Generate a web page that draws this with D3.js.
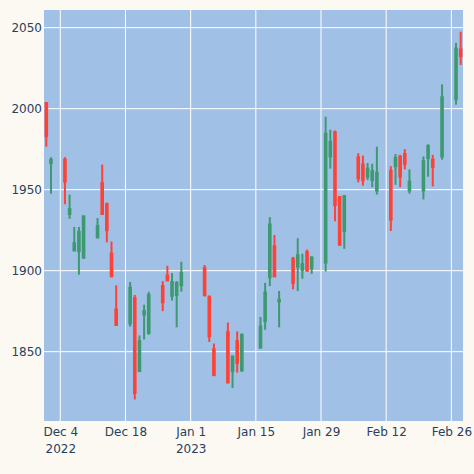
<!DOCTYPE html>
<html>
<head>
<meta charset="utf-8">
<script src="https://cdn.jsdelivr.net/npm/d3@7"></script>
<style>
  html, body { margin: 0; padding: 0; background: #fbf9f1; }
</style>
</head>
<body>
<script>
// trading days
const dates = ["2022-12-01","2022-12-02","2022-12-05","2022-12-06","2022-12-07","2022-12-08","2022-12-09",
  "2022-12-12","2022-12-13","2022-12-14","2022-12-15","2022-12-16","2022-12-19","2022-12-20","2022-12-21",
  "2022-12-22","2022-12-23","2022-12-26","2022-12-27","2022-12-28","2022-12-29","2022-12-30","2023-01-04",
  "2023-01-05","2023-01-06","2023-01-09","2023-01-10","2023-01-11","2023-01-12","2023-01-16","2023-01-17",
  "2023-01-18","2023-01-19","2023-01-20","2023-01-23","2023-01-24","2023-01-25","2023-01-26","2023-01-27",
  "2023-01-30","2023-01-31","2023-02-01","2023-02-02","2023-02-03","2023-02-06","2023-02-07","2023-02-08",
  "2023-02-09","2023-02-10","2023-02-13","2023-02-14","2023-02-15","2023-02-16","2023-02-17","2023-02-20",
  "2023-02-21","2023-02-22","2023-02-24","2023-02-27","2023-02-28"];

const open  = [2003.5,1966.5,1968.5,1935,1912.5,1912,1908,1920.5,1954,1941,1910.5,1876,1867.5,1883,1838,
  1873,1861.5,1890.5,1897,1884.5,1885,1891,1901.5,1884,1851.5,1862,1838,1856.5,1838.5,1852.5,1869,
  1896,1915,1881,1907.5,1902.5,1900.5,1911.5,1901.5,1905,1970.5,1985.5,1945.5,1924.5,1970,1965.5,1958,
  1956,1949.5,1961.5,1964.5,1970.5,1972,1949.5,1949.5,1969.5,1968.5,1970.5,2006,2036.5];
const high  = [2004,1970,1970,1947,1927,1927,1934,1932.5,1965.5,1942,1918,1891,1893,1885,1860,
  1879,1887,1893.5,1903,1898.5,1893.5,1905.5,1903.5,1884.5,1855,1868,1847.5,1862.5,1861,1871.5,1892.5,
  1933,1922,1887.5,1908.5,1920,1910.5,1913,1909,1995,1987,1986.5,1946,1946.5,1972.5,1971,1966.5,
  1966,1976.5,1964.5,1972,1971.5,1975,1962.5,1970.5,1978,1971.5,2015,2040.5,2047.5];
const low   = [1976.5,1947.5,1941,1932,1912,1897.5,1907.5,1920,1934.5,1917.5,1896,1866,1865.5,1820.5,1837.5,
  1857.5,1860.5,1875,1893.5,1881.5,1865,1887,1884,1856,1835,1830.5,1827.5,1837,1837.5,1852,1863.5,
  1890.5,1896,1865,1888.5,1887.5,1895,1899.5,1898,1899.5,1963,1930.5,1915.5,1913.5,1954.5,1952.5,1956,
  1951.5,1947,1924.5,1953,1951.5,1962.5,1947.5,1944,1958,1952,1968.5,2002.5,2027];
const close = [1983,1968.5,1955,1938,1917,1924,1933.5,1927.5,1935,1925,1896.5,1866.5,1889.5,1824.5,1856.5,
  1875,1885,1880.5,1894,1893,1892.5,1898.5,1885,1859.5,1835.5,1831,1847,1843,1860.5,1865.5,1886.5,
  1928.5,1896.5,1882,1892.5,1909.5,1904,1900,1908,1984.5,1979.5,1940.5,1916,1946,1957,1956,1963,
  1961.5,1960.5,1931.5,1969.5,1958,1966,1955,1967.5,1977,1964,2007,2037,2032.5];

const xTicks = ["2022-12-04","2022-12-18","2023-01-01","2023-01-15","2023-01-29","2023-02-12","2023-02-26"];
const xTickLabels = [["Dec 4","2022"],["Dec 18"],["Jan 1","2023"],["Jan 15"],["Jan 29"],["Feb 12"],["Feb 26"]];
const yTicks = [1850, 1900, 1950, 2000, 2050];

const W = 474, H = 474;
const plot = {left: 44, top: 10, right: 463, bottom: 421};
const upColor = "#3d9970", downColor = "#ff4136";
const textColor = "#2a3f5f";
const font = "'DejaVu Sans', Verdana, sans-serif";

const parse = d3.utcParse("%Y-%m-%d");
const candles = dates.map((d, i) => ({date: parse(d), o: open[i], h: high[i], l: low[i], c: close[i]}));

const halfDay = 12 * 3600 * 1000;
const x = d3.scaleUtc()
  .domain([new Date(+candles[0].date - halfDay), new Date(+candles[candles.length - 1].date + halfDay)])
  .range([plot.left, plot.right]);
const y = d3.scaleLinear()
  .domain([1807.2, 2060.9])
  .range([plot.bottom, plot.top]);

let svg = d3.select("body").append("svg")
  .attr("width", W)
  .attr("height", H)
  .style("display", "block")
  .style("background-color", "#fbf9f1");

svg.append("rect")
  .attr("x", plot.left).attr("y", plot.top)
  .attr("width", plot.right - plot.left).attr("height", plot.bottom - plot.top)
  .attr("fill", "#a1c0e6");

// grid
svg.append("g").selectAll("line")
  .data(xTicks.map(parse))
  .enter().append("line")
    .attr("x1", d => x(d)).attr("x2", d => x(d))
    .attr("y1", plot.top).attr("y2", plot.bottom)
    .attr("stroke", "#fff").attr("stroke-width", 1);

svg.append("g").selectAll("line")
  .data(yTicks)
  .enter().append("line")
    .attr("x1", plot.left).attr("x2", plot.right)
    .attr("y1", d => y(d)).attr("y2", d => y(d))
    .attr("stroke", "#fff").attr("stroke-width", 1);

// axes (labels only, plotly style)
const yAxis = svg.append("g")
  .attr("transform", `translate(${plot.left},0)`)
  .call(d3.axisLeft(y).tickValues(yTicks).tickFormat(d3.format("d")).tickSize(0).tickPadding(2));
yAxis.select(".domain").remove();
yAxis.selectAll("text")
  .attr("font-family", font)
  .attr("font-size", "12px")
  .attr("fill", textColor);

const xAxis = svg.append("g")
  .attr("transform", `translate(0,${plot.bottom})`)
  .call(d3.axisBottom(x).tickValues(xTicks.map(parse)).tickSize(0).tickFormat(""));
xAxis.select(".domain").remove();
xAxis.selectAll(".tick").each(function(d, i) {
  const t = d3.select(this).append("text")
    .attr("text-anchor", "middle")
    .attr("font-family", font)
    .attr("font-size", "12px")
    .attr("fill", textColor);
  xTickLabels[i].forEach((s, k) => {
    t.append("tspan").attr("x", 0).attr("y", 15 + k * 17).text(s);
  });
});

// candles
const bodyW = 1.6;
const g = svg.append("g");
g.selectAll("line.wick")
  .data(candles)
  .enter().append("line")
    .attr("class", "wick")
    .attr("x1", d => x(d.date)).attr("x2", d => x(d.date))
    .attr("y1", d => y(d.h)).attr("y2", d => y(d.l))
    .attr("stroke", d => d.c >= d.o ? upColor : downColor)
    .attr("stroke-width", 2);

g.selectAll("rect.body")
  .data(candles)
  .enter().append("rect")
    .attr("class", "body")
    .attr("x", d => x(d.date) - bodyW / 2)
    .attr("width", bodyW)
    .attr("y", d => y(Math.max(d.o, d.c)))
    .attr("height", d => Math.max(0.5, Math.abs(y(d.o) - y(d.c))))
    .attr("fill", d => d.c >= d.o ? upColor : downColor)
    .attr("stroke", d => d.c >= d.o ? upColor : downColor)
    .attr("stroke-width", 2);
</script>
</body>
</html>
